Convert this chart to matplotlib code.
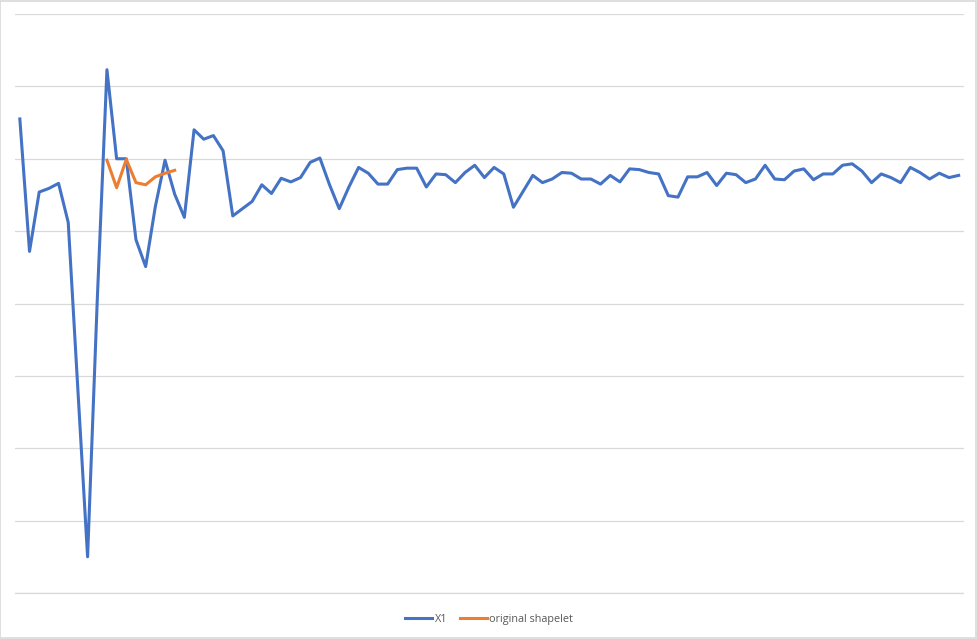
import matplotlib
matplotlib.use("Agg")
import matplotlib.pyplot as plt
from matplotlib.patches import Rectangle

# Werte der Zeitreihe X1 (Gitterlinien bei 0..8)
x1 = [6.55, 4.72, 5.54, 5.59, 5.66, 5.12, 2.80, 0.50, 4.05, 7.23,
      6.00, 6.00, 4.88, 4.51, 5.34, 5.98, 5.51, 5.19, 6.40, 6.27,
      6.32, 6.11, 5.21, 5.31, 5.41, 5.64, 5.52, 5.73, 5.68, 5.74,
      5.95, 6.01, 5.64, 5.31, 5.61, 5.88, 5.80, 5.65, 5.65, 5.85,
      5.87, 5.87, 5.61, 5.79, 5.78, 5.67, 5.81, 5.91, 5.74, 5.88,
      5.79, 5.33, 5.55, 5.77, 5.67, 5.72, 5.81, 5.80, 5.72, 5.72,
      5.65, 5.77, 5.68, 5.86, 5.85, 5.81, 5.79, 5.49, 5.47, 5.75,
      5.75, 5.81, 5.63, 5.80, 5.78, 5.67, 5.72, 5.91, 5.72, 5.71,
      5.83, 5.86, 5.71, 5.79, 5.79, 5.91, 5.93, 5.83, 5.67, 5.79,
      5.74, 5.67, 5.88, 5.81, 5.72, 5.80, 5.74, 5.77]

# shapelet beginnt beim zehnten Punkt
shapelet_start = 9
shapelet = [5.98, 5.60, 5.99, 5.67, 5.64, 5.75, 5.80, 5.84]

x_idx = list(range(len(x1)))
s_idx = list(range(shapelet_start, shapelet_start + len(shapelet)))

fig = plt.figure(figsize=(9.77, 6.39), dpi=100)
ax = fig.add_axes([15 / 977, 46 / 639, 948.5 / 977, 579 / 639])

ax.plot(x_idx, x1, color="#4472C4", lw=2.2, label="X1", solid_joinstyle="round", zorder=3)
ax.plot(s_idx, shapelet, color="#ED7D31", lw=2.2, label="original shapelet", solid_joinstyle="round", zorder=4)

ax.set_xlim(-0.5, len(x1) - 0.5)
ax.set_ylim(0, 8)
ax.set_yticks(range(0, 9))
ax.grid(axis="y", color="#D9D9D9", lw=0.9)
ax.set_axisbelow(True)
ax.tick_params(left=False, bottom=False, labelleft=False, labelbottom=False)
for s in ["top", "right", "left"]:
    ax.spines[s].set_visible(False)
ax.spines["bottom"].set_color("#D9D9D9")
ax.spines["bottom"].set_linewidth(0.9)

leg = ax.legend(loc="center", bbox_to_anchor=(0.5, -0.045), ncol=2, frameon=False,
                prop={"family": "Open Sans", "size": 7.8}, handlelength=2.5,
                handletextpad=0.2, columnspacing=1.2)
for t in leg.get_texts():
    t.set_color("#595959")

# grauer Rahmen um das ganze Diagramm
fig.patches.append(Rectangle((0.0005, 0.001), 0.998, 0.997, transform=fig.transFigure,
                             fill=False, edgecolor="#D9D9D9", lw=1.2))

fig.savefig("out.png", dpi=100)
